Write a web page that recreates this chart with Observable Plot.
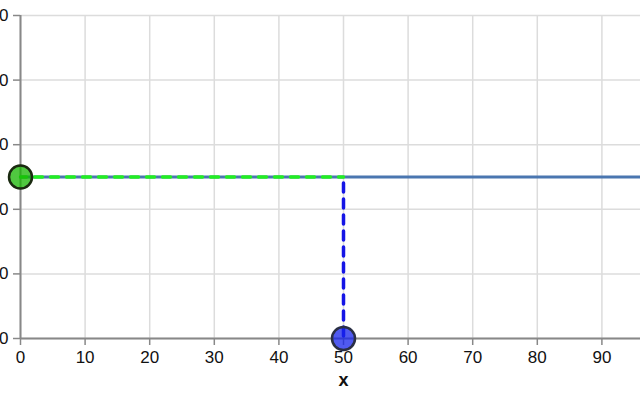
<!DOCTYPE html>
<html>
<head>
<meta charset="utf-8">
<script src="https://cdn.jsdelivr.net/npm/d3@7"></script>
<script src="https://cdn.jsdelivr.net/npm/@observablehq/plot@0.6"></script>
<style>
  html, body { margin: 0; padding: 0; overflow: hidden; background: white; }
  #chart svg { max-width: none !important; display: block; }
  #chart svg text { font-family: 'Liberation Sans', Arial, sans-serif; }
</style>
</head>
<body>
<div id="chart"></div>
<script>
// data
const xTicks = [0, 10, 20, 30, 40, 50, 60, 70, 80, 90];
const yTicks = [0, 10, 20, 30, 40, 50];
const lineX = [0, 100];
const lineY = [25, 25];
const greenX = [0];
const greenY = [25];
const blueX = [50];
const blueY = [0];
const guideHX = [0, 50];
const guideHY = [25, 25];
const guideVX = [50, 50];
const guideVY = [25, 0];

const line = lineX.map((x, i) => ({x, y: lineY[i]}));
const green = greenX.map((x, i) => ({x, y: greenY[i]}));
const blue = blueX.map((x, i) => ({x, y: blueY[i]}));
const gH = guideHX.map((x, i) => ({x, y: guideHY[i]}));
const gV = guideVX.map((x, i) => ({x, y: guideVY[i]}));

const chart = Plot.plot({
  width: 666,
  height: 400,
  marginLeft: 20,
  marginRight: 0,
  marginTop: 15,
  marginBottom: 62,
  style: {fontFamily: "'Liberation Sans', Arial, sans-serif", fontSize: "17px", background: "white"},
  x: {domain: [0, 100]},
  y: {domain: [0, 50]},
  marks: [
    Plot.gridX(xTicks, {stroke: "#dcdcdc", strokeOpacity: 1, strokeWidth: 1.5}),
    Plot.gridY(yTicks, {stroke: "#dcdcdc", strokeOpacity: 1, strokeWidth: 1.5}),
    Plot.axisX(xTicks, {tickSize: 7, tickPadding: 5, stroke: "#888", strokeWidth: 1.5, fill: "#111", fontSize: 17, label: null}),
    Plot.axisY(yTicks, {tickSize: 7, tickPadding: 5, stroke: "#888", strokeWidth: 1.5, fill: "#111", fontSize: 17, label: null}),
    Plot.ruleY([0], {stroke: "#888", strokeWidth: 2}),
    Plot.ruleX([0], {stroke: "#888", strokeWidth: 2}),
    Plot.line(line, {x: "x", y: "y", stroke: "#4a76b0", strokeWidth: 3}),
    Plot.line(gH, {x: "x", y: "y", stroke: "#22ee22", strokeWidth: 3.5, strokeDasharray: "8,8", strokeDashoffset: 2}),
    Plot.line(gV, {x: "x", y: "y", stroke: "#1515e6", strokeWidth: 3.5, strokeDasharray: "9,7", strokeDashoffset: -6}),
    Plot.dot(green, {x: "x", y: "y", r: 11.5, fill: "#15b500", fillOpacity: 0.75, stroke: "#1a2a10", strokeWidth: 2.5}),
    Plot.dot(blue, {x: "x", y: "y", r: 11.5, fill: "#1523eb", fillOpacity: 0.75, stroke: "#2a2f45", strokeWidth: 2.5}),
    Plot.text(["x"], {frameAnchor: "bottom", dy: 47, text: d => d, fontWeight: "bold", fontSize: 18, fill: "#111"})
  ]
});
document.getElementById("chart").appendChild(chart);
</script>
</body>
</html>
